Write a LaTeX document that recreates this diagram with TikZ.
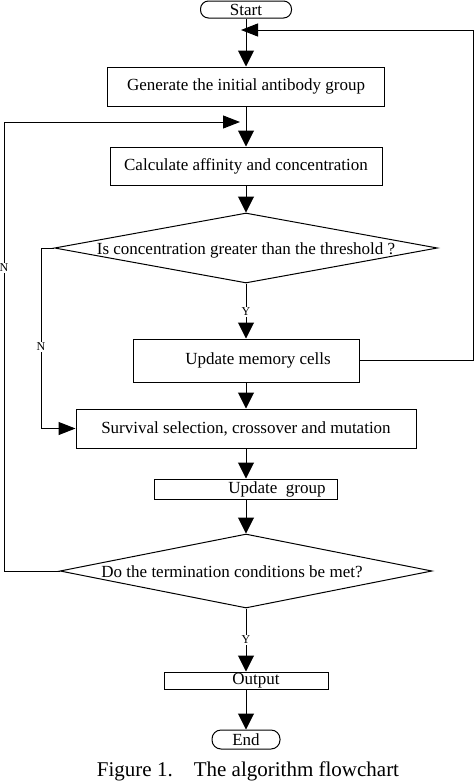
\documentclass[tikz,border=0pt]{standalone}
\usepackage{fontspec}
\setmainfont{Liberation Serif}
\usetikzlibrary{shapes.geometric,arrows.meta}
\begin{document}
\begin{tikzpicture}[x=1pt,y=-1pt,
  every node/.style={font=\fontsize{17}{20}\selectfont, inner sep=0pt},
  box/.style={draw, line width=1pt, rectangle},
  term/.style={draw, line width=1pt, rectangle, rounded corners=8pt},
  decision/.style={draw, line width=1pt, diamond},
  flow/.style={line width=1pt, -{Triangle[length=16pt,width=16pt]}},
  hflow/.style={line width=1pt, -{Triangle[length=17pt,width=13pt]}},
  lab/.style={fill=white, inner sep=1pt, font=\fontsize{12}{14}\selectfont}]
\useasboundingbox (0,0) rectangle (474,782);
% nodes
\node[term, minimum width=91pt, minimum height=17pt] (start) at (246,9.5) {Start};
\node[box, minimum width=277pt, minimum height=39pt] (gen) at (246,86.5) {Generate the initial antibody group};
\node[box, minimum width=272pt, minimum height=38pt] (calc) at (246,166) {Calculate affinity and concentration};
\node[decision, minimum width=383pt, minimum height=70pt] (d1) at (246,248) {};
\node (d1t) at (246,250) {Is concentration greater than the threshold ?};
\node[box, minimum width=226pt, minimum height=43pt] (mem) at (246,360.5) {\hspace*{24pt}Update memory cells};
\node[box, minimum width=340pt, minimum height=39pt] (surv) at (246,428.5) {Survival selection, crossover and mutation};
\node[box, minimum width=183pt, minimum height=20pt] (upd) at (246,489) {\hspace*{62pt}Update~~group};
\node[decision, minimum width=372pt, minimum height=74pt] (d2) at (246,571) {};
\node (d2t) at (232,572) {Do the termination conditions be met?};
\node[box, minimum width=164pt, minimum height=17pt] (out) at (246,680.5) {\hspace*{20pt}Output};
\node[term, minimum width=68pt, minimum height=19pt, rounded corners=9pt] (end) at (246,739.5) {End};
\node[anchor=base, font=\fontsize{21}{24}\selectfont] (cap) at (248,776.5) {Figure 1.\quad The algorithm flowchart};
% coordinates
\coordinate (j1) at (241,30);
\coordinate (j2) at (240,122);
\coordinate (r1) at (473,30);
\coordinate (l1) at (4,122);
\coordinate (l2) at (41,428.5);
% connectors
\draw[flow] (start) -- (gen);
\draw[flow] (gen) -- (calc);
\draw[flow] (calc) -- (d1);
\draw[flow] (d1) -- (mem);
\draw[flow] (mem) -- (surv);
\draw[flow] (surv) -- (upd);
\draw[flow] (upd) -- (d2);
\draw[flow] (d2) -- (out);
\draw[flow] (out) -- (end);
\draw[hflow] (mem.east) -| (r1) -- (j1);
\draw[hflow] (d2.west) -| (l1) -- (j2);
\draw[hflow] (d1.west) -| (l2) -- (surv.west);
% labels
\node[lab] (y1) at (246,312) {Y};
\node[lab] (y2) at (246,640) {Y};
\node[lab] (n1) at (41,347) {N};
\node[lab] (n2) at (4,268) {N};
\end{tikzpicture}
\end{document}
